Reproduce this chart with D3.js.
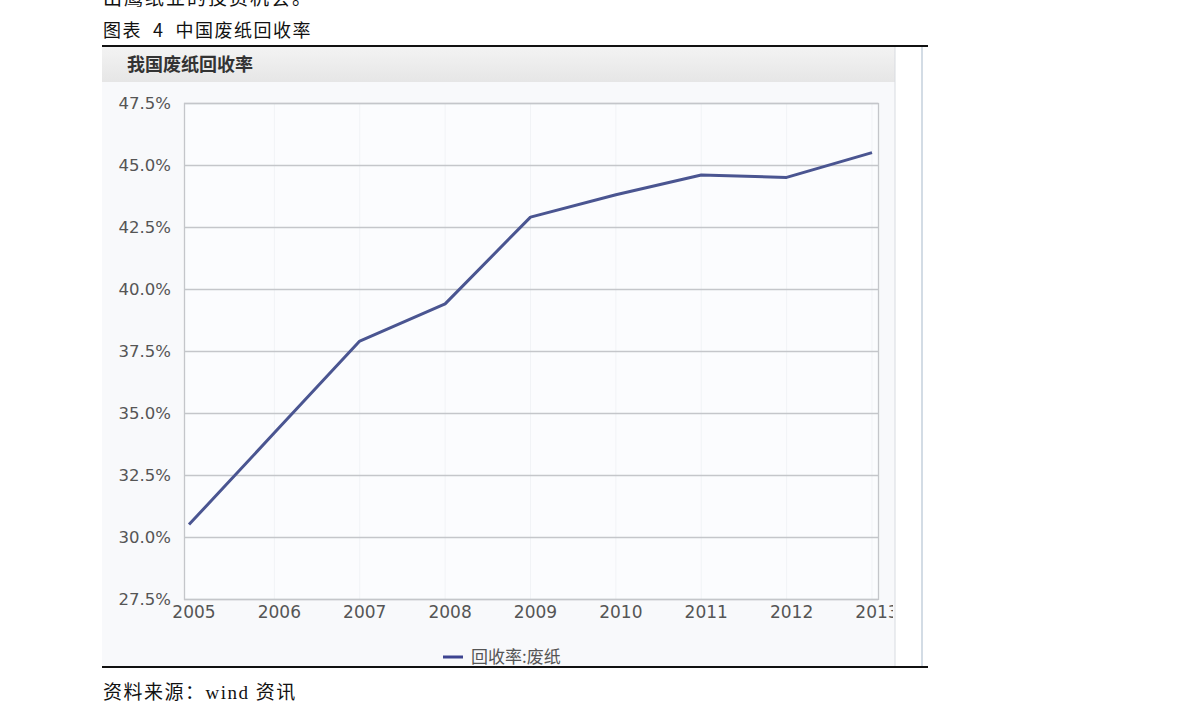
<!DOCTYPE html>
<html>
<head>
<meta charset="utf-8">
<script src="https://cdn.jsdelivr.net/npm/d3@7"></script>
<style>
  body { margin: 0; background: #fff; }
  svg { display: block; }
</style>
</head>
<body>
<div class="chart"></div>
<script>
var years = ["2005", "2006", "2007", "2008", "2009", "2010", "2011", "2012", "2013"];
var rate = [30.5, 34.2, 37.9, 39.4, 42.9, 43.8, 44.6, 44.5, 45.5];
var yTicks = [27.5, 30.0, 32.5, 35.0, 37.5, 40.0, 42.5, 45.0, 47.5];
var seriesName = "回收率:废纸";

var cjk = "'Noto Sans CJK SC', 'Noto Sans', sans-serif";
var verd = "'DejaVu Sans', Verdana, sans-serif";

var svg = d3.select(".chart").append("svg")
  .attr("width", 1191)
  .attr("height", 725);

var defs = svg.append("defs");
var grad = defs.append("linearGradient")
  .attr("id", "hdr")
  .attr("x1", 0).attr("y1", 0).attr("x2", 0).attr("y2", 1);
grad.append("stop").attr("offset", "0%").attr("stop-color", "#f3f3f3");
grad.append("stop").attr("offset", "100%").attr("stop-color", "#e6e6e6");
defs.append("clipPath").attr("id", "panelclip")
  .append("rect").attr("x", 102).attr("y", 47).attr("width", 791).attr("height", 620);

// text above the figure (cut off by the page top, as in the source page)
svg.append("text")
  .attr("x", 103).attr("y", 5)
  .attr("font-family", "'Liberation Serif', " + cjk)
  .attr("font-size", 19).attr("fill", "#111")
  .attr("letter-spacing", 2)
  .text("出鹰纸业的投资机会。");

svg.append("text")
  .attr("x", 103).attr("y", 37)
  .attr("font-family", cjk)
  .attr("font-size", 18).attr("fill", "#111")
  .attr("letter-spacing", 1.5)
  .attr("xml:space", "preserve")
  .text("图表  4  中国废纸回收率");

// panel
svg.append("rect").attr("x", 102).attr("y", 47).attr("width", 793).attr("height", 620).attr("fill", "#f8f9fb");
svg.append("rect").attr("x", 102).attr("y", 47).attr("width", 793).attr("height", 35).attr("fill", "url(#hdr)");
svg.append("line").attr("x1", 895).attr("x2", 895).attr("y1", 47).attr("y2", 667).attr("stroke", "#d8dbe0");
svg.append("line").attr("x1", 922).attr("x2", 922).attr("y1", 47).attr("y2", 667).attr("stroke", "#c5d0dc").attr("stroke-width", 1.5);

svg.append("text")
  .attr("x", 127).attr("y", 71)
  .attr("font-family", cjk)
  .attr("font-size", 18).attr("font-weight", "bold").attr("fill", "#333")
  .text("我国废纸回收率");

// rules
svg.append("line").attr("x1", 102).attr("x2", 928).attr("y1", 46).attr("y2", 46).attr("stroke", "#111").attr("stroke-width", 2);
svg.append("line").attr("x1", 102).attr("x2", 928).attr("y1", 667).attr("y2", 667).attr("stroke", "#111").attr("stroke-width", 2);

// plot
var pLeft = 184, pRight = 878, pTop = 103, pBottom = 599;
var x = d3.scalePoint().domain(years).range([189, 872]);
var y = d3.scaleLinear().domain([27.5, 47.5]).range([pBottom, pTop]);

svg.append("rect").attr("x", pLeft).attr("y", pTop).attr("width", pRight - pLeft).attr("height", pBottom - pTop)
  .attr("fill", "#fbfcfe");

svg.append("g").selectAll("line").data(years.slice(1)).join("line")
  .attr("x1", d => x(d)).attr("x2", d => x(d))
  .attr("y1", pTop).attr("y2", pBottom)
  .attr("stroke", "#f1f3f6").attr("stroke-width", 1);

svg.append("g").selectAll("line").data(yTicks).join("line")
  .attr("x1", pLeft).attr("x2", pRight)
  .attr("y1", d => Math.round(y(d)) + 0.5).attr("y2", d => Math.round(y(d)) + 0.5)
  .attr("stroke", "#c4c6ca").attr("stroke-width", 1.3);

svg.append("rect").attr("x", pLeft + 0.5).attr("y", pTop + 0.5).attr("width", pRight - pLeft).attr("height", pBottom - pTop)
  .attr("fill", "none").attr("stroke", "#c4c6ca").attr("stroke-width", 1.3);

svg.append("g").selectAll("text").data(yTicks).join("text")
  .attr("x", 171).attr("y", d => y(d) + 6)
  .attr("text-anchor", "end")
  .attr("font-family", verd).attr("font-size", 16.5).attr("fill", "#555")
  .text(d => d.toFixed(1) + "%");

svg.append("g").attr("clip-path", "url(#panelclip)")
  .selectAll("text").data(years).join("text")
  .attr("x", d => x(d) + 5).attr("y", 618)
  .attr("text-anchor", "middle")
  .attr("font-family", verd).attr("font-size", 17).attr("fill", "#555")
  .text(d => d);

var line = d3.line().x((d, i) => x(years[i])).y(d => y(d));
svg.append("path")
  .datum(rate)
  .attr("d", line)
  .attr("fill", "none")
  .attr("stroke", "#4a5591")
  .attr("stroke-width", 3)
  .attr("stroke-linejoin", "round");

// legend
svg.append("line").attr("x1", 443).attr("x2", 463).attr("y1", 657).attr("y2", 657)
  .attr("stroke", "#3d4490").attr("stroke-width", 3);
svg.append("text")
  .attr("x", 471).attr("y", 663)
  .attr("font-family", cjk).attr("font-size", 17).attr("fill", "#555")
  .text(seriesName);

// source
svg.append("text")
  .attr("x", 103).attr("y", 699)
  .attr("font-family", "'Liberation Serif', " + cjk)
  .attr("font-size", 19).attr("fill", "#111")
  .attr("letter-spacing", 1.5)
  .text("资料来源：wind 资讯");
</script>
</body>
</html>
